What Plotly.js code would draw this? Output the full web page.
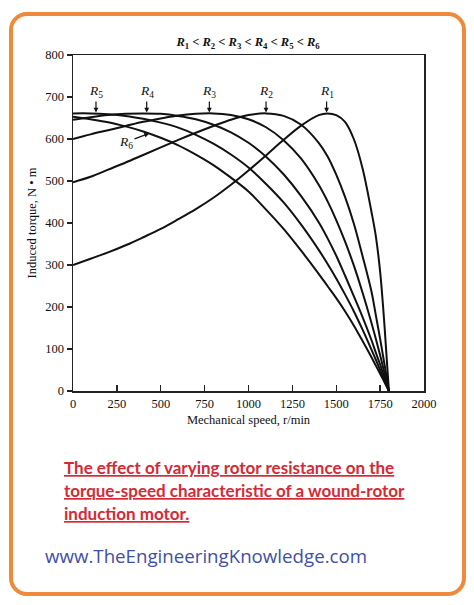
<!DOCTYPE html>
<html>
<head>
<meta charset="utf-8">
<script src="https://cdn.plot.ly/plotly-3.0.1.min.js"></script>
<style>
  html, body { margin: 0; padding: 0; background: #ffffff; }
  #wrap { position: relative; width: 474px; height: 605px; }
  #chart { width: 474px; height: 605px; }
  #frame {
    position: absolute; left: 9px; top: 12px; width: 457px; height: 584px;
    box-sizing: border-box; border: 4px solid #EF8A3C; border-radius: 18px;
    pointer-events: none;
  }
</style>
</head>
<body>
<div id="wrap"><div id="chart"></div><div id="frame"></div></div>
<script>
// Mechanical speed (r/min) shared by every curve
const speed = [0, 100, 200, 300, 400, 500, 600, 700, 800, 900, 1000, 1100, 1200, 1300, 1400, 1450, 1500, 1550, 1600, 1650, 1700, 1725, 1750, 1775, 1800];

// Induced torque (N·m) for each rotor resistance, R1 < R2 < ... < R6
const torqueR1 = [300, 315, 330, 347, 366, 386, 409, 433, 460, 491, 525, 561, 598, 632, 657, 661, 657, 641, 600, 530, 428, 370, 284, 155, 0];
const torqueR2 = [497, 510, 527, 544, 562, 580, 598, 615, 631, 646, 657, 661, 655, 634, 591, 559, 515, 462, 399, 321, 238, 182, 124, 63, 0];
const torqueR3 = [600, 611, 621, 631, 641, 649, 656, 660, 661, 657, 647, 628, 597, 553, 491, 452, 407, 356, 299, 234, 163, 125, 85, 43, 0];
const torqueR4 = [646, 652, 657, 660, 661, 660, 655, 647, 634, 616, 591, 558, 516, 464, 402, 364, 322, 275, 226, 176, 122, 92, 63, 32, 0];
const torqueR5 = [661, 661, 659, 655, 648, 639, 627, 610, 589, 563, 532, 493, 449, 396, 336, 303, 268, 230, 190, 146, 99, 75, 50, 25, 0];
const torqueR6 = [653, 647, 640, 630, 618, 603, 585, 563, 538, 508, 475, 432, 386, 334, 279, 250, 221, 190, 156, 119, 81, 61, 41, 21, 0];

// Curve labels and the speeds where their arrows point
const curveNames = ['R1', 'R2', 'R3', 'R4', 'R5'];
const peakSpeeds = [1445, 1100, 777, 420, 131];
const peakTorque = 663;

// Axis ticks
const xTicks = [0, 250, 500, 750, 1000, 1250, 1500, 1750, 2000];
const yTicks = [0, 100, 200, 300, 400, 500, 600, 700, 800];

const serif = 'Liberation Serif, Times New Roman, serif';

const series = [torqueR1, torqueR2, torqueR3, torqueR4, torqueR5, torqueR6];
const traces = series.map((t, i) => ({
  x: speed, y: t, type: 'scatter', mode: 'lines', name: 'R' + (i + 1),
  line: { color: '#111111', width: 2, shape: 'spline', smoothing: 1 },
  hoverinfo: 'x+y+name'
}));

function rLabel(name) {
  return '<i>R</i><sub>' + name.slice(1) + '</sub>';
}

const annotations = curveNames.map((n, i) => ({
  x: peakSpeeds[i], y: peakTorque, xref: 'x', yref: 'y',
  text: rLabel(n), showarrow: true, arrowhead: 2, arrowsize: 0.8, arrowwidth: 1.2,
  arrowcolor: '#111', ax: 0, ay: -21, standoff: 0,
  font: { family: serif, size: 13.5, color: '#111' }
}));

// R6 label with its pointer onto the falling curve
annotations.push({
  x: 439, y: 614, xref: 'x', yref: 'y',
  text: rLabel('R6'), showarrow: true, arrowhead: 2, arrowsize: 0.8, arrowwidth: 1.2,
  arrowcolor: '#111', ax: -24, ay: 9, standoff: 1,
  font: { family: serif, size: 13.5, color: '#111' }
});

// Caption and site line under the chart
const px = v => (v - 73) / 351;
const py = v => (391 - v) / 336;
const captionLines = [
  'The effect of varying rotor resistance on the',
  'torque-speed characteristic of a wound-rotor',
  'induction motor.'
];
captionLines.forEach((line, i) => {
  annotations.push({
    xref: 'paper', yref: 'paper', x: px(62), y: py(467 + 23 * i),
    xanchor: 'left', yanchor: 'middle', showarrow: false,
    text: '<b><u>' + line + '</u></b>',
    font: { family: 'Lato, Open Sans, sans-serif', size: 17, color: '#D42A36' }
  });
});
annotations.push({
  xref: 'paper', yref: 'paper', x: px(43), y: py(555),
  xanchor: 'left', yanchor: 'middle', showarrow: false,
  text: 'www.TheEngineeringKnowledge.com',
  font: { family: 'Open Sans, Noto Sans, sans-serif', size: 18.7, color: '#3F4FA6' }
});

const layout = {
  width: 474, height: 605,
  margin: { l: 73, r: 50, t: 55, b: 214, pad: 0 },
  paper_bgcolor: '#ffffff', plot_bgcolor: '#ffffff',
  showlegend: false,
  title: {
    text: '<i>R</i><sub>1</sub> &lt; <i>R</i><sub>2</sub> &lt; <i>R</i><sub>3</sub> &lt; <i>R</i><sub>4</sub> &lt; <i>R</i><sub>5</sub> &lt; <i>R</i><sub>6</sub>',
    font: { family: serif, size: 12.5, color: '#111', weight: 'bold' },
    x: 248 / 474, xanchor: 'center', xref: 'container',
    y: 1 - 42 / 605, yanchor: 'middle', yref: 'container'
  },
  xaxis: {
    range: [0, 2000], tickvals: xTicks, ticktext: xTicks.map(String),
    ticks: 'inside', ticklen: 6, tickwidth: 1.3, tickcolor: '#222',
    showgrid: false, zeroline: false,
    showline: true, linecolor: '#222', linewidth: 1.5, mirror: true,
    tickfont: { family: serif, size: 12.5, color: '#111' },
    title: { text: 'Mechanical speed, r/min', font: { family: serif, size: 12.5, color: '#111' }, standoff: 5 }
  },
  yaxis: {
    range: [0, 800], tickvals: yTicks, ticktext: yTicks.map(String),
    ticks: 'outside', ticklen: 5, tickwidth: 1.3, tickcolor: '#222',
    showgrid: false, zeroline: false,
    showline: true, linecolor: '#222', linewidth: 1.5, mirror: true,
    tickfont: { family: serif, size: 12.5, color: '#111' },
    title: { text: 'Induced torque, N • m', font: { family: serif, size: 12.5, color: '#111' }, standoff: 6 }
  },
  annotations: annotations
};

Plotly.newPlot('chart', traces, layout, { staticPlot: true, displayModeBar: false });
</script>
</body>
</html>
